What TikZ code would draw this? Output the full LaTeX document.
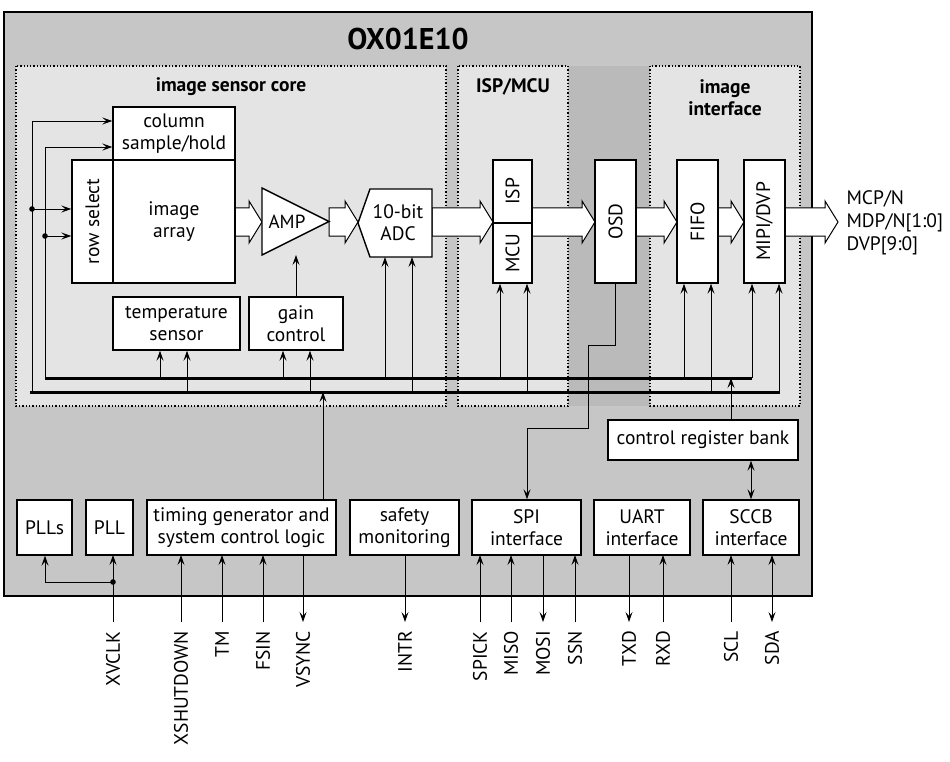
\documentclass[tikz,border=0pt]{standalone}
\usepackage{fontspec}
\setmainfont{PT Sans}
\usetikzlibrary{arrows.meta,calc}
\definecolor{chip}{HTML}{C6C6C6}
\definecolor{core}{HTML}{E4E4E4}
\definecolor{band}{HTML}{BABABA}
\begin{document}
\begin{tikzpicture}[x=1pt,y=-1pt,
  box/.style={draw,line width=1.4pt,fill=white,inner sep=0pt,align=center,font=\fontsize{19.5}{22}\selectfont},
  grp/.style={draw,dotted,line width=1.3pt,fill=core},
  arr/.style={line width=0.9pt,-{Stealth[length=10pt,width=7pt,inset=4pt]}},
  darr/.style={line width=0.9pt,{Stealth[length=10pt,width=7pt,inset=4pt]}-{Stealth[length=10pt,width=7pt,inset=4pt]}},
  ln/.style={line width=0.9pt},
  bus/.style={line width=3pt},
  fat/.style={draw,line width=1pt,fill=white},
  vt/.style={rotate=90,font=\fontsize{19.5}{22}\selectfont},
  pin/.style={font=\fontsize{19.5}{22}\selectfont,rotate=90,anchor=east,inner sep=1pt},
  ttl/.style={font=\bfseries\fontsize{19.5}{22}\selectfont,align=center}]
\useasboundingbox (0,0) rectangle (950,762);
\fill[white] (0,0) rectangle (950,762);
% chip
\draw[line width=1.5pt,fill=chip] (4,12) rectangle (812,596);
\node[font=\bfseries\fontsize{30}{32}\selectfont] (title) at (408,39) {OX01E10};
\fill[band] (568,66) rectangle (650,406);
\draw[grp] (16,66) rectangle (446,406);
\draw[grp] (458,66) rectangle (568,406);
\draw[grp] (650,66) rectangle (800,406);
\node[ttl] (lcore) at (231,87) {image sensor core};
\node[ttl] (lisp) at (513,87) {ISP/MCU};
\node[ttl] (lif) at (725,98) {image\\interface};
% fat arrows
\newcommand\fatarrow[3]{\draw[fat] (#1,#3-14) -- (#2-13,#3-14) -- (#2-13,#3-21) -- (#2,#3) -- (#2-13,#3+21) -- (#2-13,#3+14) -- (#1,#3+14) -- cycle;}
\fatarrow{235}{262}{222}
\fatarrow{329}{358}{222}
\fatarrow{432}{493}{222}
\fatarrow{532}{595}{222}
\fatarrow{636}{677}{222}
\fatarrow{718}{744}{222}
\fatarrow{785}{838}{222}
% core blocks
\node[box,minimum width=122pt,minimum height=53pt] (col) at (174,133.5) {column\\sample/hold};
\node[box,minimum width=41pt,minimum height=123pt] (row) at (92.5,221.5) {};
\node[vt] (rowt) at (92.5,221.5) {row select};
\node[box,minimum width=122pt,minimum height=123pt] (arr) at (174,221.5) {image\\array};
\draw[line width=1.4pt,fill=white] (262,188) -- (329,221.5) -- (262,255) -- cycle;
\node[font=\fontsize{19}{20}\selectfont] (amp) at (287,221.5) {AMP};
\draw[line width=1.4pt,fill=white] (358,223) -- (370,189) -- (432,189) -- (432,257) -- (370,257) -- cycle;
\node[font=\fontsize{19.5}{22}\selectfont,align=center] (adc) at (398,223) {10-bit\\ADC};
\node[box,minimum width=127pt,minimum height=53pt] (temp) at (176.5,323.5) {temperature\\sensor};
\node[box,minimum width=94pt,minimum height=53pt] (gain) at (296,323.5) {gain\\control};
% ISP/MCU
\node[box,minimum width=39pt,minimum height=63pt] (isp) at (512.5,191.5) {};
\node[box,minimum width=39pt,minimum height=60pt] (mcu) at (512.5,253) {};
\node[vt] at (isp) {ISP};
\node[vt] at (mcu) {MCU};
\node[box,minimum width=41pt,minimum height=123pt] (osd) at (615.5,221.5) {};
\node[vt] at (osd) {OSD};
\node[box,minimum width=41pt,minimum height=123pt] (fifo) at (697.5,221.5) {};
\node[vt] at (fifo) {FIFO};
\node[box,minimum width=41pt,minimum height=123pt] (mipi) at (764.5,221.5) {};
\node[vt] at (mipi) {MIPI/DVP};
\node[font=\fontsize{19.5}{23}\selectfont,align=left,anchor=west] (out) at (843,223) {MCP/N\\MDP/N[1:0]\\DVP[9:0]};
% buses
\draw[bus] (45,378) -- (752,378);
\draw[bus] (30,392) -- (780,392);
\draw[ln] (32,392) -- (32,121);
\draw[arr] (32,121) -- (col.west |- 0,121);
\draw[ln] (45,378) -- (45,147);
\draw[arr] (45,147) -- (col.west |- 0,147);
\fill (32,209) circle (2.8pt) (45,236) circle (2.8pt);
\draw[arr] (32,209) -- (row.west |- 0,209);
\draw[arr] (45,236) -- (row.west |- 0,236);
\draw[arr] (160,378) -- (160,0 |- temp.south);
\draw[arr] (187,392) -- (187,0 |- temp.south);
\draw[arr] (283,378) -- (283,0 |- gain.south);
\draw[arr] (310,392) -- (310,0 |- gain.south);
\draw[arr] (gain.north) -- (296,255);
\draw[arr] (385,378) -- (385,257);
\draw[arr] (412,392) -- (412,257);
\draw[arr] (500,378) -- (500,0 |- mcu.south);
\draw[arr] (527,392) -- (527,0 |- mcu.south);
\draw[arr] (684,378) -- (684,0 |- fifo.south);
\draw[arr] (711,392) -- (711,0 |- fifo.south);
\draw[arr] (752,378) -- (752,0 |- mipi.south);
\draw[arr] (779,392) -- (779,0 |- mipi.south);
% bottom boxes
\node[box,minimum width=55pt,minimum height=55pt] (plls) at (44.5,527.5) {PLLs};
\node[box,minimum width=47pt,minimum height=55pt] (pll) at (109.5,527.5) {PLL};
\node[box,minimum width=189pt,minimum height=55pt] (tg) at (241.5,527.5) {timing generator and\\system control logic};
\node[box,minimum width=109pt,minimum height=55pt] (safe) at (404.5,527.5) {safety\\monitoring};
\node[box,minimum width=109pt,minimum height=55pt] (spi) at (526.5,527.5) {SPI\\interface};
\node[box,minimum width=96pt,minimum height=55pt] (uart) at (642,527.5) {UART\\interface};
\node[box,minimum width=96pt,minimum height=55pt] (sccb) at (751,527.5) {SCCB\\interface};
\node[box,minimum width=190pt,minimum height=40pt] (crb) at (703,440) {control register bank};
\draw[arr] (crb.north -| 731,0) -- (731,378);
\draw[arr] (tg.north -| 323,0) -- (323,392);
\draw[darr] (crb.south -| 751,0) -- (sccb.north);
\draw[ln] (osd.south) -- (615.5,345) -- (588,345) -- (588,428) -- (527,428);
\draw[arr] (527,428) -- (spi.north -| 527,0);
% pins
\newcommand\pinin[2]{\coordinate (p#1) at (#1,622); \draw[arr] (p#1) -- (#1,555); \node[pin] at (#1,630) {#2};}
\newcommand\pinout[2]{\coordinate (p#1) at (#1,622); \draw[arr] (#1,555) -- (p#1); \node[pin] at (#1,630) {#2};}
\pinin{113}{XVCLK}
\fill (113,582) circle (2.8pt);
\draw[ln] (113,582) -- (45,582);
\draw[arr] (45,582) -- (45,0 |- plls.south);
\pinin{181}{XSHUTDOWN}
\pinin{222}{TM}
\pinin{263}{FSIN}
\pinout{303}{VSYNC}
\pinout{405}{INTR}
\pinin{480}{SPICK}
\pinin{511}{MISO}
\pinout{543}{MOSI}
\pinin{575}{SSN}
\pinout{629}{TXD}
\pinin{663}{RXD}
\pinin{731}{SCL}
\coordinate (psda) at (772,622);
\draw[darr] (772,555) -- (psda);
\node[pin] at (772,630) {SDA};
\end{tikzpicture}
\end{document}
